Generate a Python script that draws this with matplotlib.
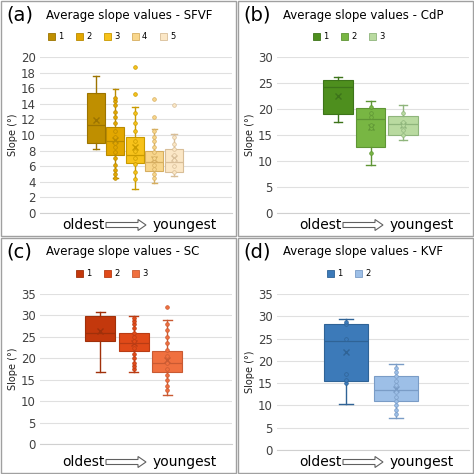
import matplotlib
matplotlib.use("Agg")
import matplotlib.pyplot as plt
from matplotlib.patches import Rectangle, FancyArrow

# ---------------- data ----------------
titles = ["Average slope values - SFVF", "Average slope values - CdP",
          "Average slope values - SC", "Average slope values - KVF"]
letters = ["(a)", "(b)", "(c)", "(d)"]
ymaxs = [20, 30, 35, 35]
ysteps = [2, 5, 5, 5]

# stats per box: whislo, q1, med, q3, whishi, mean
a_stats = [[8.2, 9.0, 11.3, 15.4, 17.6, 11.9],
           [4.5, 7.4, 9.2, 11.0, 15.9, 9.3],
           [3.1, 6.4, 7.5, 9.7, 13.6, 8.5],
           [3.9, 5.4, 6.6, 8.0, 10.8, 6.9],
           [4.8, 5.3, 6.6, 8.2, 10.1, 7.0]]
a_points = [[],
            [4.5, 5.0, 5.5, 6.2, 7.0, 7.8, 8.5, 9.0, 9.8, 10.5, 11.5, 12.3, 13.0, 13.8, 14.3, 14.7],
            [4.3, 5.2, 6.3, 7.0, 8.0, 9.2, 10.5, 11.5, 12.8, 15.3, 18.7],
            [4.5, 5.0, 5.6, 6.2, 7.0, 7.8, 8.5, 9.2, 9.8, 10.5, 12.3, 14.6],
            [5.3, 6.0, 6.8, 7.5, 8.2, 8.8, 9.7, 13.8]]
b_stats = [[17.5, 19.0, 24.2, 25.6, 26.2, 22.5],
           [9.3, 12.6, 18.0, 20.1, 21.6, 16.5],
           [14.0, 15.0, 17.1, 18.7, 20.8, 17.0]]
b_points = [[],
            [11.5, 16.3, 17.0, 18.5, 19.3, 20.3],
            [15.0, 16.0, 17.0, 17.5, 19.3]]
c_stats = [[16.8, 24.0, 26.0, 29.8, 30.7, 26.3],
           [16.8, 21.6, 23.5, 25.9, 29.9, 23.6],
           [11.5, 16.7, 19.0, 21.7, 28.9, 19.5]]
c_points = [[],
            [17.5, 18.2, 19.0, 20.0, 21.0, 22.5, 24.0, 25.0, 26.0, 27.0, 28.0, 28.8, 29.3],
            [12.5, 13.5, 15.0, 16.0, 17.5, 19.0, 20.5, 22.0, 23.5, 25.0, 26.5, 28.0, 31.9]]
d_stats = [[10.4, 15.5, 24.5, 28.3, 29.3, 22.0],
           [7.1, 11.0, 13.4, 16.5, 19.4, 13.6]]
d_points = [[15.0, 15.8, 17.0, 24.8, 28.2, 28.7],
            [8.0, 9.0, 10.0, 11.0, 12.0, 13.0, 14.5, 15.5, 16.5, 17.5, 18.5]]
all_stats = [a_stats, b_stats, c_stats, d_stats]
all_points = [a_points, b_points, c_points, d_points]
labels = [["1", "2", "3", "4", "5"], ["1", "2", "3"], ["1", "2", "3"], ["1", "2"]]

colors = [["#BF8F00", "#E3A700", "#F7C21A", "#F8D68C", "#FBE7C6"],
          ["#4E8F1E", "#78B643", "#B9DAA0"],
          ["#C3380C", "#E04A19", "#F0703F"],
          ["#3C7AB9", "#9DBFE7"]]
edges = [["#9C7400", "#B98A00", "#C99A00", "#D6AE60", "#D8BE98"],
         ["#3D741A", "#5F9535", "#8FB57C"],
         ["#A0300A", "#B93C14", "#C95A32"],
         ["#2F6396", "#7A9CC6"]]
xlims = [(-1.87, 7.98), (-0.88, 5.03), (-0.8, 4.93), (-0.38, 3.46)]
widths = [0.92, 0.9, 0.9, 0.88]

# ---------------- figure ----------------
fig = plt.figure(figsize=(4.74, 4.74), dpi=100)
fig.patch.set_facecolor("white")
W = 474.0
origins = [(0, 0), (237, 0), (0, 237), (237, 237)]
bottoms = [213, 213, 207, 213]

for k in range(4):
    ox, oy = origins[k]
    fig.patches.append(Rectangle(((ox + 1) / W, 1 - (oy + 236) / W), 235 / W, 235 / W,
                                 transform=fig.transFigure, fill=False,
                                 edgecolor="#A0A0A0", lw=1.0))
    left = (ox + 40) / W
    right = (ox + 232) / W
    top = 1 - (oy + 57) / W
    bot = 1 - (oy + bottoms[k]) / W
    ax = fig.add_axes([left, bot, right - left, top - bot])
    stats = all_stats[k]
    n = len(stats)
    bx = []
    for s in stats:
        bx.append(dict(whislo=s[0], q1=s[1], med=s[2], q3=s[3], whishi=s[4], mean=s[5], fliers=[]))
    pos = list(range(1, n + 1))
    res = ax.bxp(bx, positions=pos, widths=widths[k], patch_artist=True,
                 showmeans=True, meanline=False, manage_ticks=False, capwidths=widths[k] * 0.3)
    for i in range(n):
        res["boxes"][i].set_facecolor(colors[k][i])
        res["boxes"][i].set_edgecolor(edges[k][i])
        res["boxes"][i].set_linewidth(0.8)
        res["medians"][i].set_color(edges[k][i])
        res["medians"][i].set_linewidth(0.9)
        for j in (2 * i, 2 * i + 1):
            res["whiskers"][j].set_color(edges[k][i])
            res["caps"][j].set_color(edges[k][i])
        res["means"][i].set_marker("x")
        res["means"][i].set_markeredgecolor(edges[k][i])
        res["means"][i].set_markersize(5)
        pts = all_points[k][i]
        if pts:
            ax.scatter([pos[i]] * len(pts), pts, s=7, facecolor=colors[k][i],
                       edgecolor=edges[k][i], linewidth=0.5, zorder=4)
    ax.set_xlim(*xlims[k])
    ax.set_ylim(0, ymaxs[k])
    ax.set_yticks(range(0, ymaxs[k] + 1, ysteps[k]))
    ax.set_xticks([])
    ax.grid(axis="y", color="#E0E0E0", lw=0.8)
    ax.set_axisbelow(True)
    for sp in ["top", "right", "left"]:
        ax.spines[sp].set_visible(False)
    ax.spines["bottom"].set_color("#D0D0D0")
    ax.tick_params(axis="y", length=0, labelsize=8.5, colors="#404040", pad=3)
    ax.set_ylabel("Slope (°)", fontsize=7, color="#202020", labelpad=2)

    # texts
    fig.text((ox + 6) / W, 1 - (oy + 15) / W, letters[k], fontsize=14, va="center", ha="left")
    fig.text((ox + 46) / W, 1 - (oy + 15) / W, titles[k], fontsize=8.5, va="center", ha="left")
    # legend
    lx = ox + 118 - n * 14
    for i in range(n):
        x0 = lx + i * 28
        fig.patches.append(Rectangle((x0 / W, 1 - (oy + 40) / W), 7 / W, 7 / W,
                                     transform=fig.transFigure, facecolor=colors[k][i],
                                     edgecolor=edges[k][i], lw=0.6))
        fig.text((x0 + 10) / W, 1 - (oy + 36.5) / W, labels[k][i], fontsize=6,
                 va="center", ha="left")
    # oldest -> youngest
    ty = 1 - (oy + 225) / W
    fig.text((ox + 62) / W, ty, "oldest", fontsize=10, va="center", ha="left")
    fig.text((ox + 153) / W, ty, "youngest", fontsize=10, va="center", ha="left")
    fig.patches.append(FancyArrow(
        (ox + 106) / W, ty, 40 / W, 0, width=5 / W, head_width=11 / W, head_length=8 / W,
        length_includes_head=True, transform=fig.transFigure,
        facecolor="white", edgecolor="#606060", lw=0.8))

fig.savefig("out.png", dpi=100)
